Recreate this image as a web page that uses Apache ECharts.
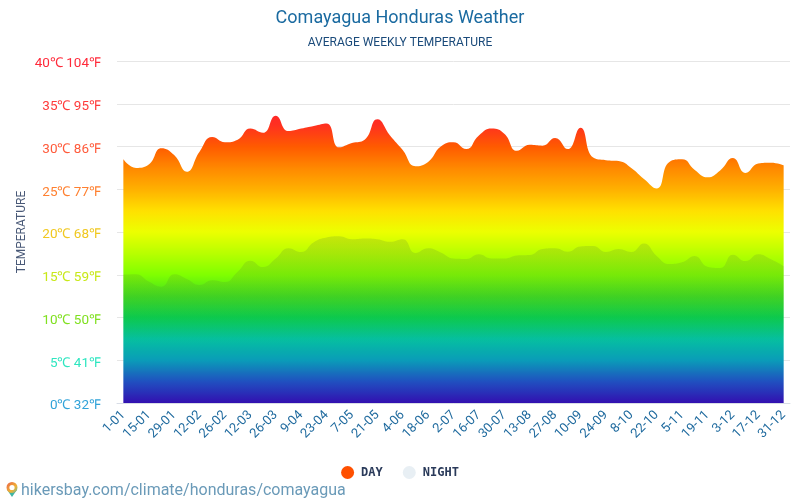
<!DOCTYPE html>
<html>
<head>
<meta charset="utf-8">
<title>Comayagua Honduras Weather</title>
<script src="https://cdn.jsdelivr.net/npm/echarts@6/dist/echarts.min.js"></script>
<style>
  html, body { margin: 0; padding: 0; background: #fff; }
  #main { width: 800px; height: 500px; }
</style>
</head>
<body>
<div id="main"></div>
<script>
var weeks = ['1-01', '8-01', '15-01', '22-01', '29-01', '5-02', '12-02', '19-02', '26-02', '5-03', '12-03', '19-03', '26-03',
  '2-04', '9-04', '16-04', '23-04', '30-04', '7-05', '14-05', '21-05', '28-05', '4-06', '11-06', '18-06', '25-06',
  '2-07', '9-07', '16-07', '23-07', '30-07', '6-08', '13-08', '20-08', '27-08', '3-09', '10-09', '17-09', '24-09',
  '1-10', '8-10', '15-10', '22-10', '29-10', '5-11', '12-11', '19-11', '26-11', '3-12', '10-12', '17-12', '24-12', '31-12'];
var dayTemps = [28.5, 27.5, 27.9, 29.8, 29.0, 27.05, 29.4, 31.1, 30.5, 30.8, 32.1, 31.6, 33.6,
  31.8, 32.1, 32.4, 32.7, 29.9, 30.4, 30.8, 33.2, 31.3, 29.6, 27.7, 28.2, 30.0,
  30.5, 29.7, 31.3, 32.1, 31.5, 29.5, 30.2, 30.1, 31.0, 29.7, 32.2, 28.7, 28.4,
  28.3, 27.5, 26.2, 25.1, 28.2, 28.5, 27.25, 26.4, 27.2, 28.65, 26.9, 28.0, 28.1, 27.8];
var nightTemps = [15.0, 15.05, 14.2, 13.6, 15.05, 14.5, 13.8, 14.35, 14.15, 15.35, 16.65, 15.9, 16.9,
  18.1, 17.65, 18.8, 19.35, 19.5, 19.15, 19.25, 19.15, 18.85, 19.15, 17.55, 18.1, 17.6,
  16.9, 16.85, 17.4, 16.9, 16.9, 17.25, 17.3, 18.0, 18.1, 17.7, 18.3, 18.35, 17.65,
  18.0, 17.65, 18.65, 17.2, 16.25, 16.45, 17.2, 15.95, 15.8, 17.35, 16.6, 17.4, 16.8, 16.0];
var tempTicks = {
  0: '0℃ 32℉', 5: '5℃ 41℉', 10: '10℃ 50℉', 15: '15℃ 59℉', 20: '20℃ 68℉',
  25: '25℃ 77℉', 30: '30℃ 86℉', 35: '35℃ 95℉', 40: '40℃ 104℉'
};
var tickColors = {
  0: '#31a3d9', 5: '#2ee6c0', 10: '#80e020', 15: '#c8e818', 20: '#f0c820',
  25: '#ff8030', 30: '#ff5a3a', 35: '#ff3a3a', 40: '#ff2a3a'
};
// one colour every 2.5 degrees, from 0 to 40
var heatColors = ['#3210b0', '#2050c0', '#0a9cb8', '#05c0a0', '#08d050', '#40e020', '#80ff00', '#b8ff00', '#ecff00',
  '#ffe000', '#ffb000', '#ff8800', '#ff5a00', '#ff3020', '#ff2030', '#ff2030', '#ff2030'];

var font = 'Roboto';
var chart = echarts.init(document.getElementById('main'));
chart.setOption({
  animation: false,
  title: {
    left: 'center',
    top: 4,
    itemGap: 10,
    text: 'Comayagua Honduras Weather',
    textStyle: { fontFamily: font, fontSize: 18, fontWeight: 'normal', color: '#1a6aa0' },
    subtext: 'AVERAGE WEEKLY TEMPERATURE',
    subtextStyle: { fontFamily: font, fontSize: 12, color: '#1a4a7a' }
  },
  grid: { left: 117, right: 10, top: 61, bottom: 97 },
  legend: {
    bottom: 16,
    left: 'center',
    itemGap: 20,
    itemWidth: 13,
    itemHeight: 13,
    icon: 'circle',
    data: ['DAY', 'NIGHT'],
    textStyle: { fontFamily: 'DejaVu Sans Mono', fontSize: 12, fontWeight: 'bold', color: '#2a3a5a', padding: [0, 0, 0, 2] }
  },
  visualMap: {
    show: false,
    type: 'continuous',
    seriesIndex: 0,
    min: 0,
    max: 40,
    inRange: { color: heatColors }
  },
  xAxis: {
    type: 'category',
    boundaryGap: true,
    data: weeks,
    axisLine: { lineStyle: { color: '#d8dde6' } },
    axisTick: { alignWithLabel: true, interval: 1, length: 7, lineStyle: { color: '#ccd6eb' } },
    axisLabel: { interval: 1, rotate: 45, margin: 10, fontFamily: font, fontSize: 13, color: '#1f6a9e' }
  },
  yAxis: {
    type: 'value',
    min: 0,
    max: 40,
    interval: 5,
    name: 'TEMPERATURE',
    nameLocation: 'middle',
    nameGap: 89,
    nameMoveOverlap: false,
    nameTextStyle: { fontFamily: font, fontSize: 12, color: '#4a5a78' },
    axisLine: { show: false },
    axisTick: { show: false },
    splitLine: { lineStyle: { color: '#e6e6e6' } },
    axisLabel: {
      margin: 16,
      fontFamily: font,
      fontSize: 13.5,
      verticalAlign: 'top',
      lineHeight: 6,
      formatter: function (v) { return tempTicks[v]; },
      color: function (v) { return tickColors[v]; }
    }
  },
  series: [{
    name: 'DAY',
    type: 'line',
    data: dayTemps,
    smooth: true,
    showSymbol: false,
    itemStyle: { color: '#ff5000' },
    lineStyle: { width: 0 },
    areaStyle: { opacity: 1 }
  }, {
    name: 'NIGHT',
    type: 'line',
    data: nightTemps,
    smooth: true,
    showSymbol: false,
    itemStyle: { color: '#e8eff4' },
    lineStyle: { width: 0 },
    areaStyle: {
      opacity: 1,
      color: {
        type: 'linear', x: 0, y: 0, x2: 0, y2: 1,
        colorStops: [
          { offset: 0, color: 'rgba(90,130,50,0.2)' },
          { offset: 0.35, color: 'rgba(70,120,50,0.14)' },
          { offset: 0.65, color: 'rgba(70,110,50,0)' },
          { offset: 1, color: 'rgba(70,110,50,0)' }
        ]
      }
    }
  }],
  graphic: [{
    type: 'polygon',
    shape: { points: [[7.2, 490], [16.8, 490], [12, 497]] },
    style: { fill: '#3fb5a3' }
  }, {
    type: 'ring',
    shape: { cx: 12, cy: 487.5, r: 5.5, r0: 2.6 },
    style: {
      fill: {
        type: 'linear', x: 0, y: 0, x2: 1, y2: 1,
        colorStops: [
          { offset: 0, color: '#e8604a' },
          { offset: 0.6, color: '#f2b233' },
          { offset: 1, color: '#6cb89a' }
        ]
      }
    }
  }, {
    type: 'text',
    left: 21,
    top: 483,
    style: {
      text: 'hikersbay.com/climate/honduras/comayagua',
      font: '16px Roboto',
      fill: '#6a9ab8'
    }
  }]
});
</script>
</body>
</html>
